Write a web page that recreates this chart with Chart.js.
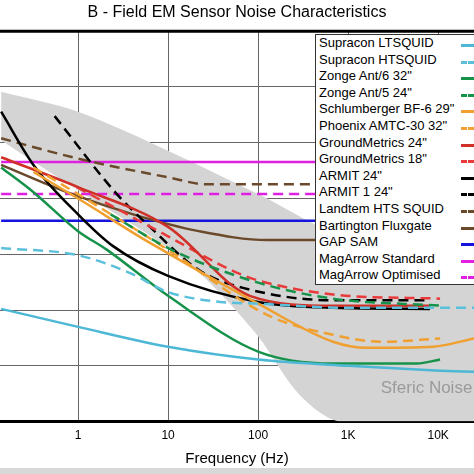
<!DOCTYPE html>
<html><head><meta charset="utf-8">
<script src="https://cdn.jsdelivr.net/npm/chart.js@4"></script>
<style>
body{margin:0;background:#fff;font-family:"Liberation Sans",Arial,sans-serif}
#wrap{position:relative;width:474px;height:474px;background:#fff}
#legend{position:absolute;left:315px;top:34px;width:170px;height:251px;background:#fff;border:1px solid #333;box-sizing:border-box}
.item{position:absolute;left:3px;font-size:13px;color:#000;white-space:nowrap}
.sw{position:absolute;left:145px;width:20px;height:0;border-top:3px solid}
#bottom{position:absolute;left:0;top:468px;width:474px;height:6px;background:#d8d8d8}
</style></head><body>
<div id="wrap"><canvas id="c" width="474" height="474"></canvas><div id="legend"></div><div id="bottom"></div></div>
<script>
// frequency (Hz) / noise (relative, log decades)
const sfericUpF = [0.14, 1, 10, 100, 1000, 25000];
const sfericUpV = [8.2e5, 3.6e5, 7.2e4, 1.2e4, 1.9e3, 700];
const sfericLoF = [0.14, 1, 10, 29, 100, 290, 810, 25000];
const sfericLoV = [1.1e5, 1.4e4, 1.3e3, 310, 34, 3, 1, 1];

const names = ['Supracon LTSQUID','Supracon HTSQUID','Zonge Ant/6 32"','Zonge Ant/5 24"','Schlumberger BF-6  29"',
  'Phoenix AMTC-30  32"','GroundMetrics 24"','GroundMetrics 18"','ARMIT  24"','ARMIT 1  24"',
  'Landtem HTS SQUID','Bartington Fluxgate','GAP SAM','MagArrow Standard','MagArrow Optimised'];

const ltsF = [0.14, 1, 10, 100, 1000, 10500, 25000];
const ltsV = [105, 50, 22, 13, 10, 8.2, 7.8];
const htsF = [0.14, 1, 3.8, 10, 38, 100, 1000, 25000];
const htsV = [1300, 960, 460, 210, 140, 130, 110, 110];
const zonge6F = [0.14, 0.32, 1, 2.1, 10, 100, 680, 5800, 10500];
const zonge6V = [3.6e4, 1.3e4, 2.6e3, 1.2e3, 180, 18, 11, 11, 13];
const zonge5F = [2.3, 11, 100, 680, 10500];
const zonge5V = [5.2e3, 1.2e3, 310, 160, 120];
const schlF = [0.32, 1, 6.3, 100, 680, 1600, 8800, 25000];
const schlV = [3.0e4, 1.0e4, 1.6e3, 130, 27, 21, 22, 31];
const phoenixF = [0.32, 1, 10, 126, 680, 2400, 10500];
const phoenixV = [3.6e4, 1.2e4, 1.2e3, 82, 36, 27, 31];
const gm24F = [0.14, 1, 10, 81, 680, 8100];
const gm24V = [5.5e4, 1.6e4, 3.1e3, 180, 120, 120];
const gm18F = [0.97, 10, 53, 100, 680, 10500];
const gm18V = [1.6e4, 2.1e3, 500, 340, 190, 160];
const armitF = [0.14, 0.32, 1, 2.45, 10, 100, 680, 8100];
const armitV = [3.6e5, 4.0e4, 5.2e3, 1.4e3, 410, 140, 110, 105];
const armit1F = [0.55, 2.7, 6.3, 22, 68, 680, 8100];
const armit1V = [3.0e5, 1.2e4, 3.1e3, 520, 250, 150, 150];
const landtemF = [0.14, 1, 10, 27, 430, 25000];
const landtemV = [1.2e5, 5.2e4, 2.4e4, 1.8e4, 1.8e4, 1.8e4];
const bartF = [0.14, 0.75, 4.1, 22, 126, 430, 25000];
const bartV = [4.0e4, 1.3e4, 5.2e3, 2.6e3, 1.8e3, 1.8e3, 1.8e3];
const gapV = 4.0e3, magStdV = 4.5e4, magOptV = 1.2e4;

const cols = ['#4cb8d6','#5bc0dc','#16924a','#16924a','#f0a030','#f0a030','#d03028','#e83a3a','#000','#000','#6b4a2b','#6b4a2b','#1414dc','#e020e0','#e020e0'];
const dashed = [false,true,false,true,false,true,false,true,false,true,true,false,false,false,true];

const pts = (f, v) => f.map((x, i) => ({x, y: v[i]}));
const flat = v => [{x: 0.14, y: v}, {x: 25000, y: v}];
const series = [pts(ltsF, ltsV), pts(htsF, htsV), pts(zonge6F, zonge6V), pts(zonge5F, zonge5V), pts(schlF, schlV),
  pts(phoenixF, phoenixV), pts(gm24F, gm24V), pts(gm18F, gm18V), pts(armitF, armitV), pts(armit1F, armit1V),
  pts(landtemF, landtemV), pts(bartF, bartV), flat(gapV), flat(magStdV), flat(magOptV)];

const datasets = series.map((d, i) => ({
  label: names[i], data: d, borderColor: cols[i], borderWidth: 2.5, borderDash: dashed[i] ? [10, 6] : [],
  pointRadius: 0, tension: 0.4, cubicInterpolationMode: 'monotone', fill: false
}));
datasets.push({label: 'sfu', data: pts(sfericUpF, sfericUpV), borderWidth: 0, pointRadius: 0, fill: '+1', backgroundColor: '#d4d4d4', tension: 0.3});
datasets.push({label: 'sfl', data: pts(sfericLoF, sfericLoV), borderWidth: 0, pointRadius: 0, fill: false, tension: 0.3});

const labelPlug = {
  id: 'sferic',
  afterDatasetsDraw(chart) {
    const ctx = chart.ctx, xs = chart.scales.x, ys = chart.scales.y, a = chart.chartArea;
    ctx.save();
    ctx.fillStyle = '#9a9a9a'; ctx.font = '17px "Liberation Sans", Arial';
    ctx.fillText('Sferic Noise', xs.getPixelForValue(2300), ys.getPixelForValue(3.2));
    ctx.strokeStyle = '#000'; ctx.lineWidth = 3;
    ctx.beginPath(); ctx.moveTo(a.left, a.top); ctx.lineTo(a.right, a.top); ctx.stroke();
    ctx.restore();
  }
};

new Chart(document.getElementById('c'), {
  type: 'line',
  data: {datasets},
  plugins: [labelPlug],
  options: {
    responsive: false, animation: false,
    layout: {padding: {left: 0, right: 0, top: 0, bottom: 6}},
    plugins: {
      legend: {display: false}, tooltip: {enabled: false},
      title: {display: true, text: 'B - Field EM Sensor Noise Characteristics', color: '#000',
        font: {size: 16, weight: 'normal', family: '"Liberation Sans", Arial'}, padding: {top: 3, bottom: 9}}
    },
    scales: {
      x: {type: 'logarithmic', min: 0.136, max: 25000,
        afterBuildTicks: s => { s.ticks = [1, 10, 100, 1000, 10000].map(v => ({value: v})); },
        ticks: {color: '#000', padding: 7, font: {size: 12, family: '"Liberation Sans", Arial'},
          callback: v => v >= 1000 ? (v / 1000) + 'K' : String(v), maxRotation: 0},
        grid: {color: '#666', lineWidth: 1, drawTicks: false},
        border: {color: '#000', width: 3},
        title: {display: true, text: 'Frequency (Hz)', color: '#000', font: {size: 15, family: '"Liberation Sans", Arial'}, padding: 0}
      },
      y: {type: 'logarithmic', min: 1, max: 1e7,
        afterBuildTicks: s => { s.ticks = [1,10,100,1e3,1e4,1e5,1e6,1e7].map(v => ({value: v})); },
        ticks: {display: false}, grid: {color: '#666', lineWidth: 1, drawTicks: false},
        border: {display: false}
      }
    }
  }
});

const leg = document.getElementById('legend');
names.forEach((n, i) => {
  const t = document.createElement('div');
  t.className = 'item'; t.style.top = (0 + i * 16.6) + 'px'; t.textContent = n; leg.appendChild(t);
  const s = document.createElement('div');
  s.className = 'sw'; s.style.top = (9 + i * 16.6) + 'px';
  s.style.borderTopColor = cols[i]; if (dashed[i]) s.style.borderTopStyle = 'dashed';
  leg.appendChild(s);
});
</script></body></html>
